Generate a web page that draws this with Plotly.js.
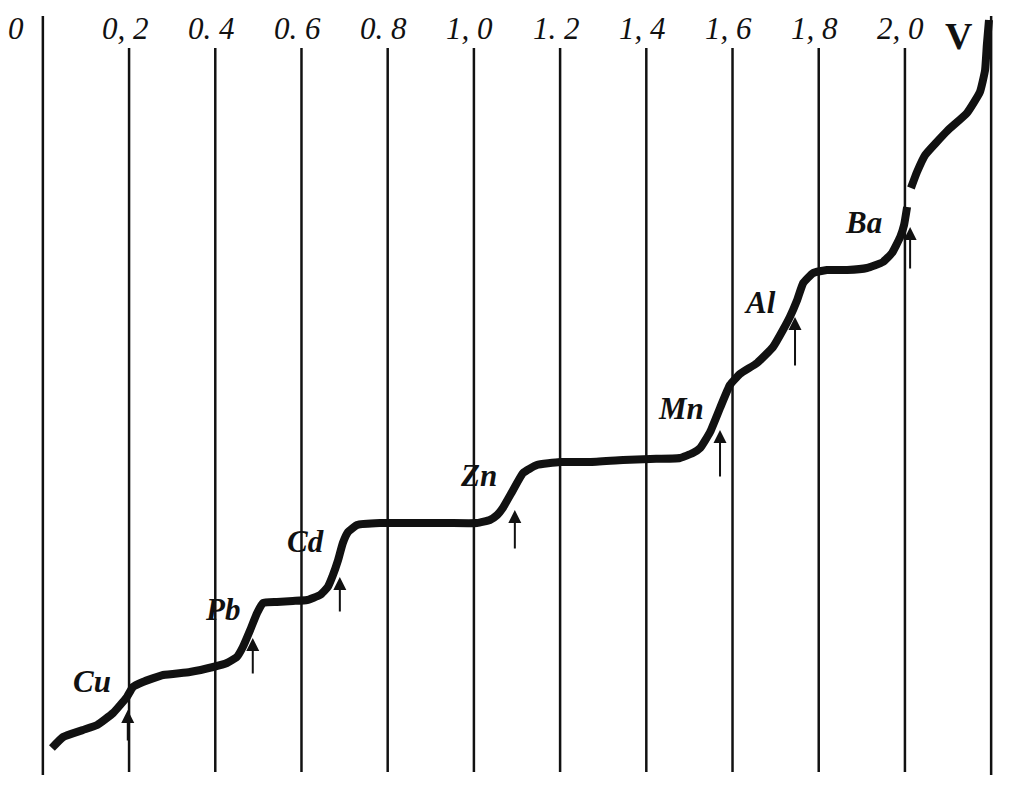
<!DOCTYPE html>
<html>
<head>
<meta charset="utf-8">
<script src="https://cdn.plot.ly/plotly-3.0.1.min.js"></script>
<style>html,body{margin:0;padding:0;background:#fff;}#chart{width:1024px;height:798px;}</style>
</head>
<body>
<div id="chart"></div>
<script>
// Grid / tick voltages (V) and their printed labels
const voltTicks = [0, 0.2, 0.4, 0.6, 0.8, 1.0, 1.2, 1.4, 1.6, 1.8, 2.0, 2.2];
const tickText = ['0', '0, 2', '0. 4', '0. 6', '0. 8', '1, 0', '1. 2', '1, 4', '1, 6', '1, 8', '2, 0', ''];
const unitText = 'V';

// Polarogram: applied voltage (V) vs. current (arbitrary units)
const curveVolts = [0.021, 0.047, 0.093, 0.126, 0.163, 0.195, 0.209, 0.232, 0.279, 0.341,
  0.395, 0.427, 0.450, 0.464, 0.481, 0.497, 0.511, 0.543, 0.580, 0.613,
  0.643, 0.661, 0.673, 0.685, 0.696, 0.708, 0.729, 0.782, 0.859, 0.938,
  1.007, 1.037, 1.054, 1.067, 1.091, 1.114, 1.146, 1.200, 1.269, 1.346,
  1.409, 1.478, 1.508, 1.525, 1.548, 1.571, 1.594, 1.617, 1.657, 1.694,
  1.717, 1.733, 1.750, 1.764, 1.787, 1.819, 1.866, 1.912, 1.949, 1.970,
  1.989, 1.998, 2.005, null, 2.014, 2.028, 2.047, 2.098, 2.144, 2.174,
  2.186, 2.190, 2.195];
const curveCurrent = [2.4, 3.5, 4.2, 4.7, 5.9, 7.5, 8.5, 9.0, 9.7, 10.0,
  10.5, 10.9, 11.5, 12.5, 14.2, 15.9, 16.9, 17.0, 17.1, 17.2,
  17.7, 18.5, 19.7, 21.2, 22.9, 24.0, 24.7, 24.9, 24.9, 24.9,
  24.9, 25.2, 25.7, 26.4, 28.2, 29.9, 30.7, 31.0, 31.0, 31.2,
  31.3, 31.4, 31.9, 32.4, 34.0, 36.4, 38.7, 39.8, 40.9, 42.5,
  44.2, 45.5, 47.2, 48.9, 49.9, 50.2, 50.2, 50.4, 51.0, 51.9,
  53.5, 54.7, 56.5, null, 58.4, 60.0, 61.7, 64.1, 65.9, 68.0,
  70.2, 72.7, 75.2];

// Element waves: label positions and half-wave arrows
const elements = ['Cu', 'Pb', 'Cd', 'Zn', 'Mn', 'Al', 'Ba'];
const labelVolts = [0.114, 0.416, 0.610, 1.010, 1.480, 1.664, 1.905];
const labelCurrent = [9.1, 16.3, 23.1, 29.7, 36.4, 47.0, 55.0];
const arrowVolts = [0.197, 0.487, 0.689, 1.095, 1.571, 1.745, 2.012];
const arrowTip = [6.2, 13.4, 19.5, 26.2, 34.2, 45.5, 54.5];
const arrowTail = [3.0, 9.7, 15.9, 22.2, 29.4, 40.5, 50.2];

const INK = '#111111';
const shapes = voltTicks.map((v, i) => {
  const outer = (i === 0 || i === voltTicks.length - 1);
  return {
    type: 'line', xref: 'x', yref: 'y',
    x0: v, x1: v, y0: outer ? -0.3 : 0, y1: outer ? 75.6 : 72.4,
    line: {color: INK, width: 2.5}
  };
});

const annotations = [];
voltTicks.forEach((v, i) => {
  if (!tickText[i]) return;
  const isZero = (i === 0);
  annotations.push({
    x: v, xref: 'x', y: 1 - 29 / 798, yref: 'paper',
    text: tickText[i], showarrow: false,
    xanchor: isZero ? 'right' : 'center', yanchor: 'middle',
    xshift: isZero ? -17 : -4,
    font: {family: 'Liberation Serif, serif', size: 31, style: 'italic', color: INK}
  });
});
annotations.push({
  x: voltTicks[voltTicks.length - 2], xref: 'x', y: 1 - 36 / 798, yref: 'paper',
  text: unitText, showarrow: false, xanchor: 'center', yanchor: 'middle', xshift: 54,
  font: {family: 'Liberation Serif, serif', size: 38, weight: 'bold', color: INK}
});
elements.forEach((el, i) => {
  annotations.push({
    x: labelVolts[i], y: labelCurrent[i], xref: 'x', yref: 'y',
    text: el, showarrow: false, xanchor: 'center', yanchor: 'middle',
    font: {family: 'Liberation Serif, serif', size: 31, style: 'italic', weight: 'bold', color: INK}
  });
  annotations.push({
    x: arrowVolts[i], y: arrowTip[i], xref: 'x', yref: 'y',
    ax: arrowVolts[i], ay: arrowTail[i], axref: 'x', ayref: 'y',
    text: '', showarrow: true, arrowhead: 2, arrowsize: 1.3, arrowwidth: 2,
    arrowcolor: INK, standoff: 0, startstandoff: 0
  });
});

const trace = {
  x: curveVolts, y: curveCurrent, type: 'scatter', mode: 'lines',
  line: {color: INK, width: 8, shape: 'spline', smoothing: 0.4},
  connectgaps: false, hoverinfo: 'skip'
};

const layout = {
  width: 1024, height: 798,
  margin: {l: 17, r: 7, t: 0, b: 0, pad: 0},
  paper_bgcolor: '#ffffff', plot_bgcolor: '#ffffff',
  showlegend: false,
  xaxis: {range: [-0.06, 2.26], showgrid: false, zeroline: false, showticklabels: false, showline: false, ticks: ''},
  yaxis: {range: [-2.6, 77.2], showgrid: false, zeroline: false, showticklabels: false, showline: false, ticks: ''},
  shapes: shapes,
  annotations: annotations
};

Plotly.newPlot('chart', [trace], layout, {displayModeBar: false, staticPlot: true});
</script>
</body>
</html>
